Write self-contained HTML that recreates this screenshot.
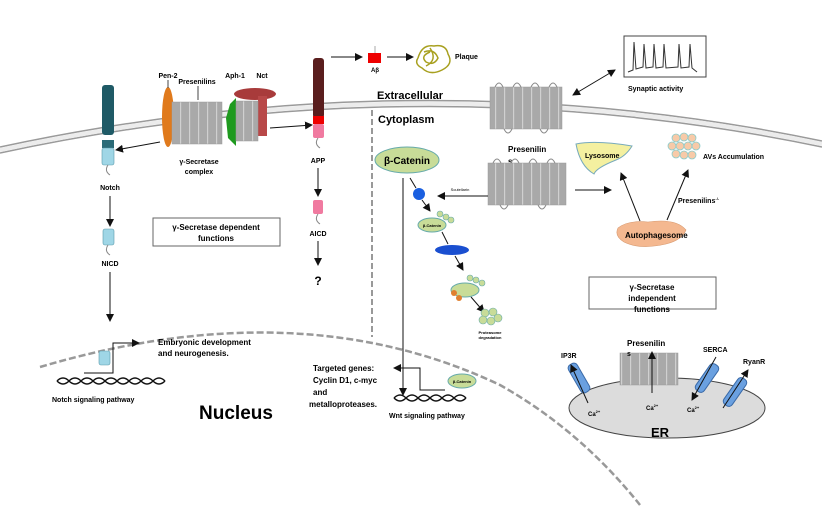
<!DOCTYPE html>
<html><head><meta charset="utf-8"><style>
html,body{margin:0;padding:0;background:#fff;}
svg{display:block;font-family:"Liberation Sans",Arial,sans-serif;font-weight:bold;}
</style></head><body>
<svg width="822" height="526" viewBox="0 0 822 526" xmlns="http://www.w3.org/2000/svg">
<defs>
<marker id="ah" markerWidth="8" markerHeight="8" refX="7" refY="4" orient="auto" markerUnits="userSpaceOnUse"><path d="M0,0 L8,4 L0,8 z" fill="#111"/></marker>
<marker id="ahs" markerWidth="8" markerHeight="8" refX="1" refY="4" orient="auto" markerUnits="userSpaceOnUse"><path d="M8,0 L0,4 L8,8 z" fill="#111"/></marker>
<pattern id="tm" width="9" height="10" patternUnits="userSpaceOnUse"><rect width="9" height="10" fill="#a9a9a9"/><rect x="0" width="1.2" height="10" fill="#d0d0d0"/></pattern>
</defs>
<!-- membrane -->
<path d="M0,147 Q420,57 822,141" fill="none" stroke="#9a9a9a" stroke-width="1.5"/>
<path d="M0,153 Q420,63 822,147" fill="none" stroke="#9a9a9a" stroke-width="1.5"/>
<path d="M0,150 Q420,60 822,144" fill="none" stroke="#ececec" stroke-width="4"/>
<!-- dashed lines -->
<line x1="372" y1="110" x2="372" y2="337" stroke="#999" stroke-width="2" stroke-dasharray="6,3"/>
<path d="M40,367 Q300,290 500,385 Q580,430 640,505" fill="none" stroke="#999" stroke-width="2.5" stroke-dasharray="7,3"/>
<!-- Notch -->
<rect x="102" y="85" width="12" height="50" rx="3" fill="#1f5a66"/>
<rect x="102" y="140" width="12" height="8" fill="#2b6b78"/>
<rect x="102" y="148" width="12" height="17" rx="2" fill="#9fd6e6" stroke="#5a9aaa" stroke-width="0.6"/>
<path d="M108,165 q-4,6 2,10" stroke="#888" fill="none"/>
<text x="110" y="190" font-size="7" text-anchor="middle">Notch</text>
<line x1="110" y1="196" x2="110" y2="226" stroke="#111" marker-end="url(#ah)"/>
<rect x="103" y="229" width="11" height="16" rx="2" fill="#9fd6e6" stroke="#5a9aaa" stroke-width="0.6"/>
<path d="M108,245 q-4,6 2,10" stroke="#888" fill="none"/>
<text x="110" y="266" font-size="7" text-anchor="middle">NICD</text>
<line x1="110" y1="272" x2="110" y2="321" stroke="#111" marker-end="url(#ah)"/>
<!-- gamma secretase -->
<ellipse cx="168" cy="117" rx="6" ry="30" fill="#e07a1c"/>
<text x="168" y="78" font-size="7" text-anchor="middle">Pen-2</text>
<line x1="168" y1="80" x2="168" y2="88" stroke="#444"/>
<rect x="172" y="102" width="50" height="42" fill="url(#tm)" stroke="#999" stroke-width="0.5"/>
<text x="197" y="84" font-size="7" text-anchor="middle">Presenilins</text>
<line x1="198" y1="86" x2="198" y2="100" stroke="#444"/>
<path d="M230,104 L236,98 L236,146 L228,138 L226,118 z" fill="#1f9a1f"/>
<text x="235" y="78" font-size="7" text-anchor="middle">Aph-1</text>
<ellipse cx="255" cy="94" rx="21" ry="6" fill="#a83b3b"/>
<rect x="258" y="96" width="9" height="40" fill="#b84848"/>
<rect x="236" y="101" width="22" height="40" fill="url(#tm)" stroke="#999" stroke-width="0.5"/>
<text x="262" y="78" font-size="7" text-anchor="middle">Nct</text>
<text x="199" y="164" font-size="7" text-anchor="middle">γ-Secretase</text>
<text x="199" y="174" font-size="7" text-anchor="middle">complex</text>
<line x1="160" y1="142" x2="116" y2="150" stroke="#111" marker-end="url(#ah)"/>
<line x1="270" y1="128" x2="312" y2="125" stroke="#111" marker-end="url(#ah)"/>
<!-- box -->
<rect x="153" y="218" width="127" height="28" fill="#fff" stroke="#666"/>
<text x="216" y="230" font-size="8" text-anchor="middle">γ-Secretase dependent</text>
<text x="216" y="241" font-size="8" text-anchor="middle">functions</text>
<!-- APP -->
<rect x="313" y="58" width="11" height="60" rx="3" fill="#5a1e1e"/>
<rect x="313" y="116" width="11" height="8" fill="#e00"/>
<rect x="313" y="124" width="11" height="14" rx="2" fill="#f07aa0"/>
<path d="M318,138 q-4,6 2,10" stroke="#888" fill="none"/>
<text x="318" y="163" font-size="7" text-anchor="middle">APP</text>
<line x1="318" y1="168" x2="318" y2="196" stroke="#111" marker-end="url(#ah)"/>
<rect x="313" y="200" width="10" height="14" rx="2" fill="#f07aa0"/>
<path d="M318,214 q-4,6 2,10" stroke="#888" fill="none"/>
<text x="318" y="236" font-size="7" text-anchor="middle">AICD</text>
<line x1="318" y1="241" x2="318" y2="265" stroke="#111" marker-end="url(#ah)"/>
<text x="318" y="285" font-size="12" text-anchor="middle">?</text>
<line x1="331" y1="57" x2="362" y2="57" stroke="#111" marker-end="url(#ah)"/>
<rect x="368" y="53" width="13" height="10" fill="#e00"/>
<line x1="375" y1="46" x2="375" y2="53" stroke="#aaa"/>
<text x="375" y="72" font-size="6" text-anchor="middle">Aβ</text>
<line x1="387" y1="57" x2="413" y2="57" stroke="#111" marker-end="url(#ah)"/>
<path d="M418,58 q4,-14 16,-12 q12,-2 14,8 q6,10 -6,16 q-12,6 -20,-2 q-8,-4 -4,-10 M424,52 q10,-4 14,6 q-4,8 -12,4 q-6,-6 4,-10 M430,48 q8,12 -4,18" fill="none" stroke="#a8a020" stroke-width="1.5"/>
<text x="455" y="59" font-size="7">Plaque</text>
<text x="377" y="99" font-size="11">Extracellular</text>
<text x="378" y="123" font-size="11">Cytoplasm</text>
<!-- right top receptor -->
<rect x="490" y="87" width="72" height="42" fill="url(#tm)" stroke="#999" stroke-width="0.5"/>
<path d="M495,87 q4,-8 8,0 M513,87 q4,-8 8,0 M531,87 q4,-8 8,0 M549,87 q4,-8 8,0 M504,129 q4,8 8,0 M540,129 q4,8 8,0" fill="none" stroke="#888"/>
<line x1="573" y1="95" x2="615" y2="70" stroke="#111" marker-end="url(#ah)" marker-start="url(#ahs)"/>
<rect x="624" y="36" width="82" height="41" fill="#fff" stroke="#444"/>
<path d="M628,72 L633,70 L634,42 L636,69 L643,67 L644,44 L646,68 L653,67 L654,44 L656,68 L663,67 L664,44 L666,68 L678,67 L679,44 L681,68 L689,67 L690,44 L692,68 L697,72" fill="none" stroke="#333"/>
<text x="628" y="91" font-size="7">Synaptic activity</text>
<!-- middle presenilins -->
<text x="508" y="152" font-size="8">Presenilin</text>
<text x="508" y="164" font-size="8">s</text>
<rect x="488" y="163" width="78" height="42" fill="url(#tm)" stroke="#999" stroke-width="0.5"/>
<path d="M493,163 q4,-8 8,0 M511,163 q4,-8 8,0 M529,163 q4,-8 8,0 M547,163 q4,-8 8,0 M500,205 q4,8 8,0 M538,205 q4,8 8,0" fill="none" stroke="#888"/>
<line x1="488" y1="196" x2="438" y2="196" stroke="#111" marker-end="url(#ah)"/>
<text x="460" y="191" font-size="4" font-weight="normal" text-anchor="middle">Scutellarin</text>
<line x1="575" y1="190" x2="611" y2="190" stroke="#111" marker-end="url(#ah)"/>
<path d="M576,144 q20,-4 56,2 q-6,10 -16,14 q-20,8 -22,14 q-14,-8 -18,-30 z" fill="#f4f0a0" stroke="#7ab" stroke-width="1"/>
<text x="585" y="158" font-size="7">Lysosome</text>
<g fill="#f7caa8" stroke="#8cc" stroke-width="0.8">
<circle cx="676" cy="138" r="4"/><circle cx="684" cy="137" r="4"/><circle cx="692" cy="138" r="4"/>
<circle cx="672" cy="146" r="4"/><circle cx="680" cy="146" r="4"/><circle cx="688" cy="146" r="4"/><circle cx="696" cy="146" r="4"/>
<circle cx="676" cy="154" r="4"/><circle cx="684" cy="155" r="4"/><circle cx="692" cy="155" r="4"/>
</g>
<text x="703" y="159" font-size="7">AVs Accumulation</text>
<path d="M618,228 q10,-8 30,-6 q28,-4 38,8 q-4,10 -20,14 q-26,6 -42,-2 q-10,-6 -6,-14z" fill="#f4b890" stroke="#d89a70" stroke-width="0.6"/>
<text x="625" y="238" font-size="8">Autophagesome</text>
<line x1="640" y1="221" x2="621" y2="173" stroke="#111" marker-end="url(#ah)"/>
<line x1="667" y1="220" x2="688" y2="170" stroke="#111" marker-end="url(#ah)"/>
<text x="678" y="203" font-size="7">Presenilins<tspan font-size="4" dy="-3">-/-</tspan></text>
<rect x="589" y="277" width="127" height="32" fill="#fff" stroke="#666"/>
<text x="652" y="290" font-size="8" text-anchor="middle">γ-Secretase</text>
<text x="652" y="301" font-size="8" text-anchor="middle">independent</text>
<text x="652" y="312" font-size="8" text-anchor="middle">functions</text>
<!-- beta catenin -->
<ellipse cx="407" cy="160" rx="32" ry="13" fill="#c8dc98" stroke="#6aa" stroke-width="1"/>
<text x="407" y="164" font-size="10" text-anchor="middle">β-Catenin</text>
<line x1="403" y1="178" x2="403" y2="395" stroke="#111" marker-end="url(#ah)"/>
<line x1="410" y1="178" x2="416" y2="188" stroke="#111"/>
<circle cx="419" cy="194" r="6" fill="#1a5fe0"/>
<line x1="422" y1="200" x2="430" y2="211" stroke="#111" marker-end="url(#ah)"/>
<ellipse cx="432" cy="225" rx="14" ry="7" fill="#c8dc98" stroke="#6aa"/>
<g fill="#c8dc98" stroke="#6aa" stroke-width="0.6"><circle cx="440" cy="214" r="3"/><circle cx="446" cy="217" r="3"/><circle cx="451" cy="220" r="3"/></g>
<text x="432" y="227" font-size="4" text-anchor="middle">β-Catenin</text>
<line x1="442" y1="232" x2="448" y2="244" stroke="#111"/>
<ellipse cx="452" cy="250" rx="17" ry="5" fill="#1a4fd0"/>
<line x1="455" y1="256" x2="463" y2="270" stroke="#111" marker-end="url(#ah)"/>
<ellipse cx="465" cy="290" rx="14" ry="7" fill="#c8dc98" stroke="#6aa"/>
<g fill="#c8dc98" stroke="#6aa" stroke-width="0.6"><circle cx="470" cy="278" r="3"/><circle cx="476" cy="280" r="3"/><circle cx="482" cy="283" r="3"/></g>
<circle cx="454" cy="293" r="3" fill="#e08030"/><circle cx="459" cy="298" r="3" fill="#e08030"/>
<line x1="471" y1="297" x2="484" y2="312" stroke="#111" marker-end="url(#ah)"/>
<g fill="#c8dc98" stroke="#6aa" stroke-width="0.6"><circle cx="485" cy="313" r="4"/><circle cx="493" cy="312" r="4"/><circle cx="483" cy="320" r="4"/><circle cx="491" cy="321" r="4"/><circle cx="498" cy="318" r="4"/></g>
<text x="490" y="334" font-size="4" text-anchor="middle">Proteasome</text>
<text x="490" y="339" font-size="4" text-anchor="middle">degradation</text>
<!-- ER -->
<ellipse cx="667" cy="408" rx="98" ry="30" fill="#dcdcdc" stroke="#444" stroke-width="1"/>
<rect x="620" y="353" width="58" height="32" fill="url(#tm)" stroke="#999" stroke-width="0.5"/>
<line x1="652" y1="393" x2="652" y2="352" stroke="#111" marker-end="url(#ah)"/>
<text x="627" y="346" font-size="8">Presenilin</text>
<text x="627" y="356" font-size="7">s</text>
<text x="646" y="410" font-size="6">Ca<tspan font-size="4" dy="-3">2+</tspan></text>
<rect x="574" y="362" width="10" height="32" rx="4" fill="#6aa0e0" stroke="#3a6aa8" transform="rotate(-30 579 378)"/>
<line x1="588" y1="403" x2="571" y2="365" stroke="#111" marker-end="url(#ah)"/>
<text x="561" y="358" font-size="7">IP3R</text>
<text x="588" y="416" font-size="6">Ca<tspan font-size="4" dy="-3">2+</tspan></text>
<rect x="702" y="362" width="10" height="32" rx="4" fill="#6aa0e0" stroke="#3a6aa8" transform="rotate(35 707 378)"/>
<line x1="716" y1="357" x2="692" y2="400" stroke="#111" marker-end="url(#ah)"/>
<text x="703" y="352" font-size="7">SERCA</text>
<text x="687" y="412" font-size="6">Ca<tspan font-size="4" dy="-3">2+</tspan></text>
<rect x="730" y="376" width="10" height="32" rx="4" fill="#6aa0e0" stroke="#3a6aa8" transform="rotate(35 735 392)"/>
<line x1="723" y1="408" x2="748" y2="370" stroke="#111" marker-end="url(#ah)"/>
<text x="743" y="364" font-size="7">RyanR</text>
<text x="660" y="437" font-size="13" text-anchor="middle">ER</text>
<!-- nucleus -->
<text x="236" y="419" font-size="19" text-anchor="middle">Nucleus</text>
<path d="M57,381 q6,-6 12,0 t12,0 t12,0 t12,0 t12,0 t12,0 t12,0 t12,0 t12,0 M57,381 q6,6 12,0 t12,0 t12,0 t12,0 t12,0 t12,0 t12,0 t12,0 t12,0" fill="none" stroke="#111" stroke-width="1.5"/>
<rect x="99" y="351" width="11" height="14" rx="2" fill="#9fd6e6" stroke="#5a9aaa" stroke-width="0.6"/>
<path d="M84,373 L113,373 L113,343 L139,343" fill="none" stroke="#111" marker-end="url(#ah)"/>
<text x="52" y="402" font-size="7">Notch signaling pathway</text>
<text x="158" y="345" font-size="8">Embryonic development</text>
<text x="158" y="356" font-size="8">and neurogenesis.</text>
<path d="M394,398 q6,-6 12,0 t12,0 t12,0 t12,0 t12,0 t12,0 M394,398 q6,6 12,0 t12,0 t12,0 t12,0 t12,0 t12,0" fill="none" stroke="#111" stroke-width="1.5"/>
<ellipse cx="462" cy="381" rx="14" ry="7" fill="#c8dc98" stroke="#6aa"/>
<text x="462" y="383" font-size="4" text-anchor="middle">β-Catenin</text>
<path d="M445,390 L420,390 L420,368 L394,368" fill="none" stroke="#111" marker-end="url(#ah)"/>
<text x="313" y="371" font-size="8">Targeted genes:</text>
<text x="313" y="383" font-size="8">Cyclin D1, c-myc</text>
<text x="313" y="395" font-size="8">and</text>
<text x="309" y="407" font-size="8">metalloproteases.</text>
<text x="389" y="418" font-size="7">Wnt signaling pathway</text>
</svg>
</body></html>
